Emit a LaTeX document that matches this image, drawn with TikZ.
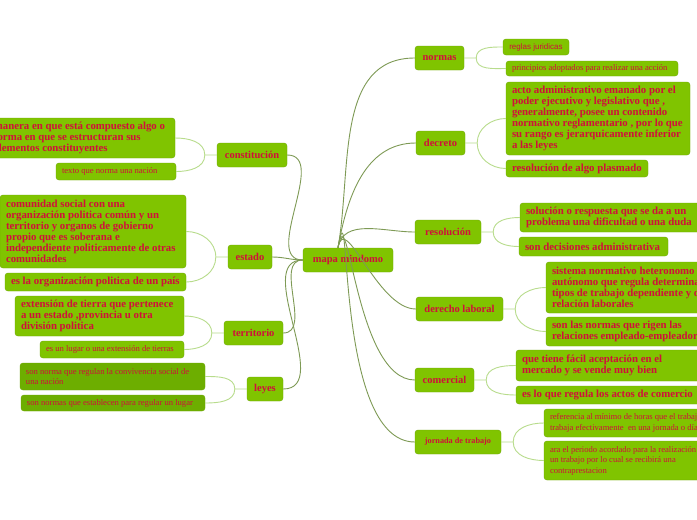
\documentclass[tikz,border=0pt]{standalone}
\usepackage{fontspec}
\setmainfont{Liberation Serif}
\newfontfamily\sansf{Liberation Sans}
\definecolor{gr}{HTML}{80C400}
\definecolor{dg}{HTML}{6DAE00}
\definecolor{rd}{HTML}{D0103A}
\definecolor{ln}{HTML}{7E9A55}
\definecolor{lg}{HTML}{B8DC8C}
\tikzset{
 bxs/.style={fill=gr,draw=gr!85!black,line width=0.4pt,rounded corners=3pt,inner sep=0pt,text=rd},
 mainf/.style={font=\bfseries\fontsize{10.5}{11}\selectfont},
 bigf/.style={font=\bfseries\fontsize{10.8}{10.9}\selectfont},
 smf/.style={font=\fontsize{8.6}{10.5}\selectfont},
 cen/.style={draw=ln,line width=0.9pt},
 br/.style={draw=lg,line width=0.9pt}
}
\newcommand\bx[7]{\node[bxs,#6,minimum width=\dimexpr#4pt-#2pt\relax,minimum height=\dimexpr#5pt-#3pt\relax] (#1) at ({(#2+#4)/2},{(#3+#5)/2}) {\parbox{\dimexpr#4pt-#2pt-12pt\relax}{\raggedright #7}};}
\newcommand\mn[6]{\node[bxs,mainf,minimum width=\dimexpr#4pt-#2pt\relax,minimum height=\dimexpr#5pt-#3pt\relax] (#1) at ({(#2+#4)/2},{(#3+#5)/2}) {#6};}
\begin{document}
\begin{tikzpicture}[x=1pt,y=-1pt]
\useasboundingbox (0,0) rectangle (697,520);
\clip (0,0) rectangle (697,520);
\fill[white] (0,0) rectangle (697,520);
\mn{c}{303}{248}{393}{272}{mapa mindomo}
\mn{normas}{415}{46}{464}{70}{normas}
\mn{decreto}{416}{131}{465}{155}{decreto}
\mn{resol}{415}{220}{481}{244}{resolución}
\mn{derecho}{416}{297}{503}{321}{derecho laboral}
\mn{comer}{415}{368}{474}{392}{comercial}
\node[bxs,font=\bfseries\fontsize{8.2}{9}\selectfont,minimum width=86pt,minimum height=24pt] (jorn) at (458,442) {jornada de trabajo};
\mn{const}{217}{143}{287}{167}{constitución}
\mn{estado}{228}{245}{272}{269}{estado}
\mn{terr}{224}{321}{283}{345}{territorio}
\mn{leyes}{247}{377}{283}{401}{leyes}
% leaves right
\node[bxs,font=\sansf\fontsize{8}{9}\selectfont,minimum width=66pt,minimum height=16pt] (n1) at (536,47) {reglas juridicas};
\bx{n2}{506}{61}{678}{76}{smf}{principios adoptados para realizar una acción}
\bx{d1}{506}{82}{690}{155}{bigf}{acto administrativo emanado por el\\poder ejecutivo y legislativo que ,\\generalmente, posee un contenido\\normativo reglamentario , por lo que\\su rango es jerarquicamente inferior\\a las leyes}
\bx{d2}{506}{160}{648}{177}{bigf}{resolución de algo plasmado}
\bx{r1}{520}{203}{720}{232}{bigf}{solución o respuesta que se da a un\\problema una dificultad o una duda}
\bx{r2}{519}{237}{668}{256}{bigf}{son decisiones administrativa}
\bx{dl1}{546}{262}{760}{313}{bigf}{sistema normativo heteronomo y\\autónomo que regula determinados\\tipos de trabajo dependiente y de\\relación laborales}
\bx{dl2}{546}{317}{760}{346}{bigf}{son las normas que rigen las\\relaciones empleado-empleador}
\bx{c1}{516}{350}{760}{381}{bigf}{que tiene fácil aceptación en el\\mercado y se vende muy bien}
\bx{c2}{516}{386}{760}{404}{bigf}{es lo que regula los actos de comercio}
\bx{j1}{544}{409}{780}{437}{smf}{referencia al mínimo de horas que el trabajador\\trabaja efectivamente \ en una jornada o día}
\bx{j2}{544}{441}{780}{480}{smf}{ara el periodo acordado para la realización de\\un trabajo por lo cual se recibirá una\\contraprestacion}
% leaves left
\bx{k1}{-12}{118}{175}{158}{bigf}{manera en que está compuesto algo o\\forma en que se estructuran sus\\elementos constituyentes}
\bx{k2}{56}{163}{176}{180}{smf}{texto que norma una nación}
\bx{e1}{0}{195}{186}{268}{bigf}{comunidad social con una\\organización politica común y un\\territorio y organos de gobierno\\propio que es soberana e\\independiente politicamente de otras\\comunidades}
\bx{e2}{5}{273}{186}{291}{bigf}{es la organización politica de un país}
\bx{t1}{15}{296}{184}{336}{bigf}{extensión de tierra que pertenece\\a un estado ,provincia u otra\\división politica}
\bx{t2}{40}{341}{184}{358}{smf}{es un lugar o una extensión de tierras}
\bx{l1}{20}{363}{205}{390}{smf,fill=dg}{son norma que regulan la convivencia social de\\una nación}
\bx{l2}{21}{395}{205}{411}{smf,fill=dg}{son normas que establecen para regular un lugar}
% center connectors
\foreach \n in {normas,decreto,resol,derecho,comer,jorn}
  \draw[cen] (c.north) ++(-10,0) to[out=80,in=180] (\n.west);
\foreach \n in {const,estado,terr,leyes}
  \draw[cen] (c.west) to[out=180,in=0] (\n.east);
\foreach \p/\a/\b in {normas/n1/n2,decreto/d1/d2,resol/r1/r2,derecho/dl1/dl2,comer/c1/c2,jorn/j1/j2}{
  \draw[br] (\p.east) -- ++(12,0) coordinate (bp) to[out=90,in=180] (\a.west);
  \draw[br] (bp) to[out=-90,in=180] (\b.west);
}
\foreach \p/\a/\b in {const/k1/k2,estado/e1/e2,terr/t1/t2,leyes/l1/l2}{
  \draw[br] (\p.west) -- ++(-12,0) coordinate (bp) to[out=90,in=0] (\a.east);
  \draw[br] (bp) to[out=-90,in=0] (\b.east);
}
\end{tikzpicture}
\end{document}
